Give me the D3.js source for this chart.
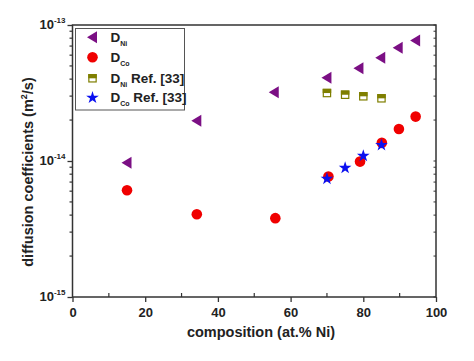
<!DOCTYPE html>
<html><head><meta charset="utf-8">
<script src="https://cdn.jsdelivr.net/npm/d3@7"></script>
<style>body{margin:0;background:#fff}svg{display:block}text{font-family:"Liberation Sans",Arial,sans-serif;font-weight:bold;fill:#222}</style>
</head><body>
<svg id="c" width="474" height="361"></svg>
<script>
const dNiX = [15, 34.2, 55.5, 70, 78.8, 84.8, 89.6, 94.4];
const dNiY = [9.7e-15, 1.98e-14, 3.2e-14, 4.1e-14, 4.8e-14, 5.75e-14, 6.8e-14, 7.7e-14];
const dCoX = [15, 34.2, 55.8, 70.4, 79.1, 85.1, 89.8, 94.4];
const dCoY = [6.1e-15, 4.06e-15, 3.8e-15, 7.7e-15, 9.9e-15, 1.36e-14, 1.72e-14, 2.12e-14];
const dNiRefX = [70, 75, 80, 85];
const dNiRefY = [3.16e-14, 3.07e-14, 2.99e-14, 2.89e-14];
const dCoRefX = [70, 75, 80, 85];
const dCoRefY = [7.4e-15, 8.9e-15, 1.09e-14, 1.31e-14];
const xTicks = [0, 20, 40, 60, 80, 100];
const yTickExp = [-13, -14, -15];

const svg = d3.select("#c");
const L = 72.5, R = 436, T = 25, B = 297;
const x = d3.scaleLinear().domain([0, 100]).range([L, R]);
const y = d3.scaleLog().domain([1e-15, 1e-13]).range([B, T]);
const axisCol = "#333";

// frame
svg.append("rect").attr("x", L).attr("y", T).attr("width", R - L).attr("height", B - T)
  .attr("fill", "none").attr("stroke", axisCol).attr("stroke-width", 1.5);

// x axis ticks
const gx = svg.append("g").attr("transform", `translate(0,${B})`);
gx.call(d3.axisBottom(x).tickValues(xTicks).tickSize(5).tickSizeOuter(0).tickFormat(d3.format("d")))
  .call(g => g.select(".domain").remove())
  .call(g => g.selectAll("line").attr("stroke", axisCol).attr("stroke-width", 1.3))
  .call(g => g.selectAll("text").attr("font-size", 13).attr("dy", "0.95em").style("fill", "#222"));
gx.selectAll(".minor").data([10, 30, 50, 70, 90]).join("line")
  .attr("x1", d => x(d)).attr("x2", d => x(d)).attr("y1", 0).attr("y2", -4)
  .attr("stroke", axisCol).attr("stroke-width", 1.2);

// y axis ticks
const gy = svg.append("g").attr("transform", `translate(${L},0)`);
const majorY = yTickExp.map(e => Math.pow(10, e));
gy.call(d3.axisLeft(y).tickValues(majorY).tickSize(5).tickSizeOuter(0).tickFormat(""))
  .call(g => g.select(".domain").remove())
  .call(g => g.selectAll("line").attr("stroke", axisCol).attr("stroke-width", 1.3));
const minorY = [];
[-15, -14].forEach(e => { for (let k = 2; k <= 9; k++) minorY.push(k * Math.pow(10, e)); });
gy.selectAll(".minor").data(minorY).join("line")
  .attr("x1", 0).attr("x2", -3).attr("y1", d => y(d)).attr("y2", d => y(d))
  .attr("stroke", axisCol).attr("stroke-width", 1.2);
// right minor ticks
svg.append("g").selectAll("line").data(minorY.concat(majorY)).join("line")
  .attr("x1", R).attr("x2", R - 2.5).attr("y1", d => y(d)).attr("y2", d => y(d))
  .attr("stroke", axisCol).attr("stroke-width", 1);

yTickExp.forEach((e, i) => {
  const t = svg.append("text").attr("x", L - 7).attr("y", y(Math.pow(10, e)) + 4)
    .attr("text-anchor", "end").attr("font-size", 13);
  t.append("tspan").text("10");
  t.append("tspan").attr("font-size", 8).attr("dy", -6).text(String(e));
});

// axis titles
svg.append("text").attr("x", 261).attr("y", 337).attr("text-anchor", "middle")
  .attr("font-size", 14.5).text("composition (at.% Ni)");
const yl = svg.append("text").attr("transform", "translate(33,172) rotate(-90)")
  .attr("text-anchor", "middle").attr("font-size", 14.5);
yl.append("tspan").text("diffusion coefficients (m");
yl.append("tspan").attr("font-size", 9).attr("dy", -6).text("2");
yl.append("tspan").attr("dy", 6).text("/s)");

// symbols
const purple = "#7b0f84", red = "#f00000", olive = "#7f7f00", blue = "#0a10f0";
function tri(g, cx, cy) {
  g.append("path").attr("d", `M${cx - 5.5},${cy} L${cx + 4.5},${cy - 6} L${cx + 4.5},${cy + 6} Z`).attr("fill", purple);
}
function circ(g, cx, cy) {
  g.append("circle").attr("cx", cx).attr("cy", cy).attr("r", 5.3).attr("fill", red);
}
function sq(g, cx, cy) {
  const s = 8.5;
  g.append("rect").attr("x", cx - s / 2).attr("y", cy - s / 2).attr("width", s).attr("height", s / 2).attr("fill", olive);
  g.append("rect").attr("x", cx - s / 2 + 0.6).attr("y", cy - s / 2 + 0.6).attr("width", s - 1.2).attr("height", s - 1.2)
    .attr("fill", "none").attr("stroke", olive).attr("stroke-width", 1.2);
}
const starPath = d3.symbol().type(d3.symbolStar).size(50)();
function star(g, cx, cy) {
  g.append("path").attr("d", starPath).attr("transform", `translate(${cx},${cy})`).attr("fill", blue);
}

const gm = svg.append("g");
dNiX.forEach((d, i) => tri(gm, x(d), y(dNiY[i])));
dNiRefX.forEach((d, i) => sq(gm, x(d), y(dNiRefY[i])));
dCoX.forEach((d, i) => circ(gm, x(d), y(dCoY[i])));
dCoRefX.forEach((d, i) => star(gm, x(d), y(dCoRefY[i])));

// legend
const lg = svg.append("g");
lg.append("rect").attr("x", 75.5).attr("y", 28.5).attr("width", 109).attr("height", 81.5)
  .attr("fill", "#fff").attr("stroke", "#555").attr("stroke-width", 1);
const legendItems = [
  { sub: "Ni", rest: "", f: tri },
  { sub: "Co", rest: "", f: circ },
  { sub: "Ni", rest: " Ref. [33]", f: sq },
  { sub: "Co", rest: " Ref. [33]", f: star }
];
const ly = [37.3, 57.3, 78.3, 97.7];
legendItems.forEach((it, i) => {
  it.f(lg, 92.5, ly[i]);
  const t = lg.append("text").attr("x", 110.5).attr("y", ly[i] + 4.5).attr("font-size", 13.5);
  t.append("tspan").text("D");
  t.append("tspan").attr("font-size", 7).attr("dy", 4).text(it.sub);
  if (it.rest) t.append("tspan").attr("dy", -4).text(it.rest);
});
</script>
</body></html>
